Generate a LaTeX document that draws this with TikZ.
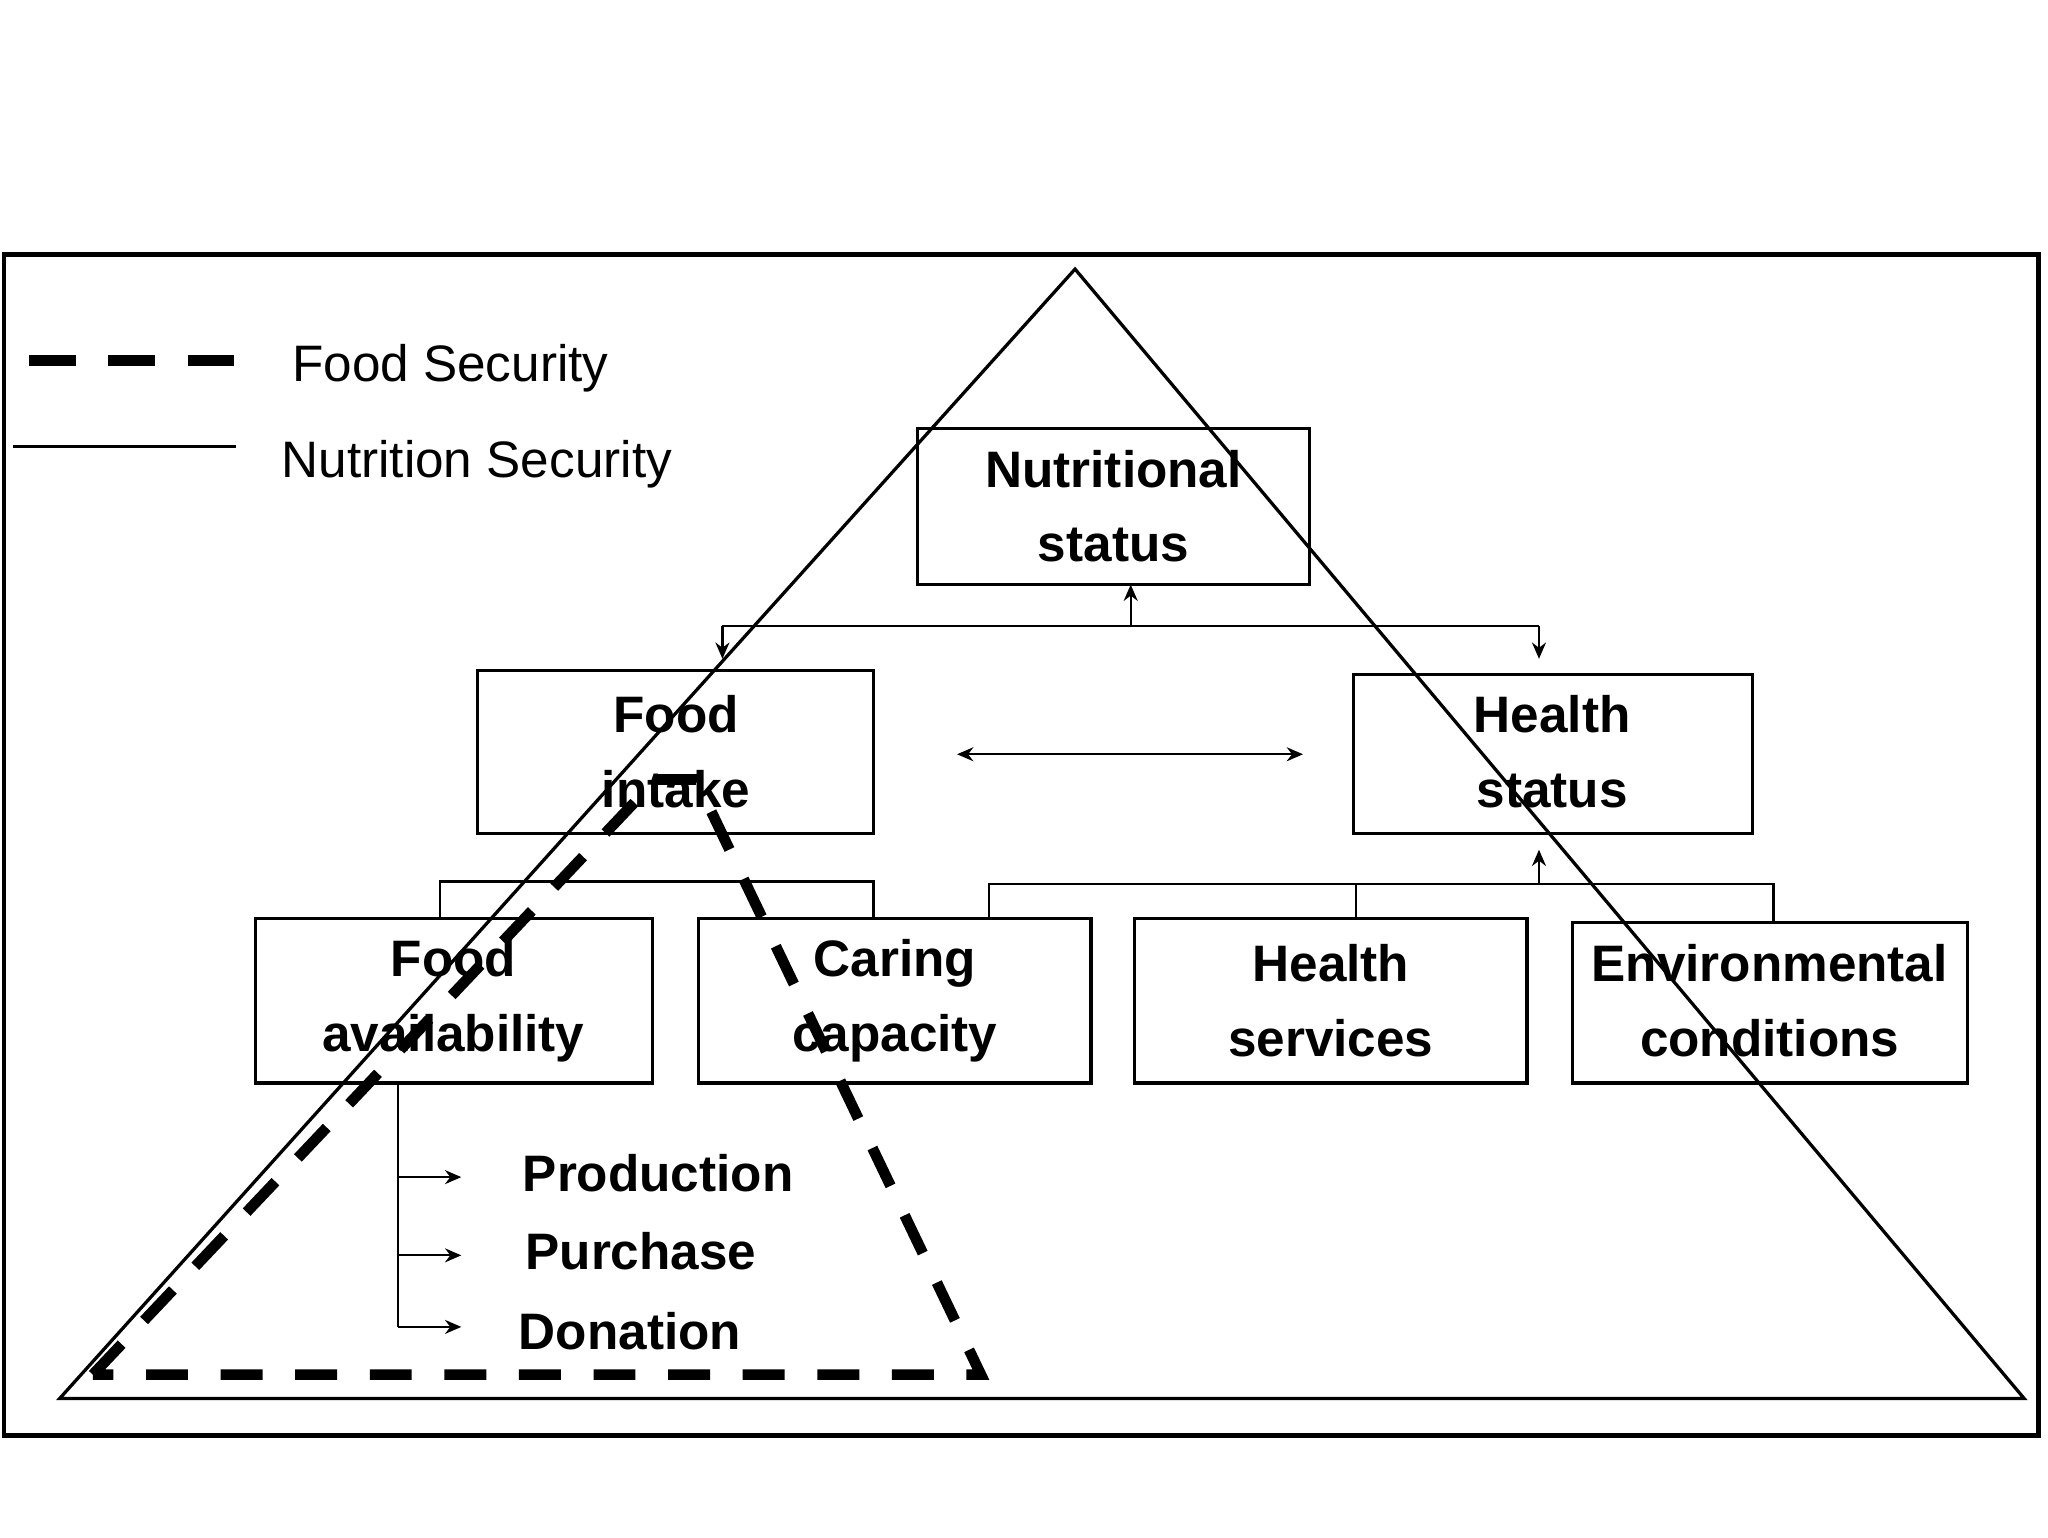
\documentclass[tikz,border=0pt]{standalone}
\usepackage{fontspec}
\setmainfont{Liberation Sans}
\usetikzlibrary{arrows.meta}
\begin{document}
\begin{tikzpicture}[x=0.01cm,y=-0.01cm,
  txt/.style={font=\fontsize{11}{14}\selectfont\bfseries,align=center,inner sep=0},
  frame/.style={line width=0.7pt},
  conn/.style={line width=0.5pt},
  tip/.style={-{Stealth[length=3.5pt,width=3pt]}},
  lbl/.style={font=\fontsize{11}{14}\selectfont\bfseries,anchor=west}]
\useasboundingbox (0,0) rectangle (1545,1160);
\fill[white] (0,0) rectangle (1545,1160);
\draw[line width=1pt] (3,192) rectangle (1538,1083);
% triangle
\coordinate (apex) at (811,203);
\coordinate (bl) at (45,1055);
\coordinate (br) at (1527,1055);
\draw[line width=0.7pt] (bl) -- (apex) -- (br) -- cycle;
% legend
\coordinate (l1a) at (22,272); \coordinate (l1b) at (190,272);
\draw[line width=2.3pt,dash pattern=on 10pt off 7pt] (l1a) -- (l1b);
\node[anchor=west,font=\fontsize{11}{14}\selectfont] (fs) at (208,278) {Food Security};
\coordinate (l2a) at (10,337); \coordinate (l2b) at (178,337);
\draw[line width=0.7pt] (l2a) -- (l2b);
\node[anchor=west,font=\fontsize{11}{14}\selectfont] (ns) at (200,350) {Nutrition Security};
% boxes
\node[txt] (nutr) at (840,382) {Nutritional\\[2pt]status};
\draw[frame] (692,323) rectangle (988,441);
\coordinate (nutb) at (853,441);
\node[txt] (fi) at (510,567) {Food\\[2pt]intake};
\draw[frame] (360,506) rectangle (659,629);
\node[txt] (hs) at (1171,567) {Health\\[2pt]status};
\draw[frame] (1021,509) rectangle (1322,629);
\node[txt] (fa) at (342,755) {Food\\[2pt]availability};
\draw[frame] (193,693) rectangle (492,817);
\node[txt] (cc) at (675,755) {Caring\\[2pt]capacity};
\draw[frame] (527,693) rectangle (823,817);
\node[txt] (hsv) at (1004,755) {Health\\[2pt]services};
\draw[frame] (856,693) rectangle (1152,817);
\node[txt] (ec) at (1335,755) {Environmental\\[2pt]conditions};
\draw[frame] (1186,696) rectangle (1484,817);
% connectors top
\coordinate (j1) at (853,472);
\draw[conn,tip] (j1) -- (nutb);
\draw[conn] (545,472) -- (1161,472);
\draw[conn,tip] (545,472) -- (545,497);
\draw[conn,tip] (1161,472) -- (1161,497);
\draw[conn,{Stealth[length=3.5pt,width=3pt]}-{Stealth[length=3.5pt,width=3pt]}] (722,569) -- (983,569);
% lower left
\draw[conn] (332,693) -- (332,665) -- (659,665) -- (659,693);
% lower right
\draw[conn] (746,693) -- (746,667) -- (1338,667) -- (1338,696);
\draw[conn] (1023,667) -- (1023,693);
\draw[conn,tip] (1161,667) -- (1161,641);
% food availability sub
\draw[conn] (300,817) -- (300,1001);
\draw[conn,tip] (300,888) -- (348,888);
\draw[conn,tip] (300,947) -- (348,947);
\draw[conn,tip] (300,1001) -- (348,1001);
\node[lbl] (pr) at (382,885) {Production};
\node[lbl] (pu) at (384,944) {Purchase};
\node[lbl] (do) at (379,1004) {Donation};
% dashed triangle
\draw[line width=2.3pt,dash pattern=on 9pt off 7pt] (70,1037) -- (495,588) -- (525,588) -- (740,1037) -- cycle;
\end{tikzpicture}
\end{document}
